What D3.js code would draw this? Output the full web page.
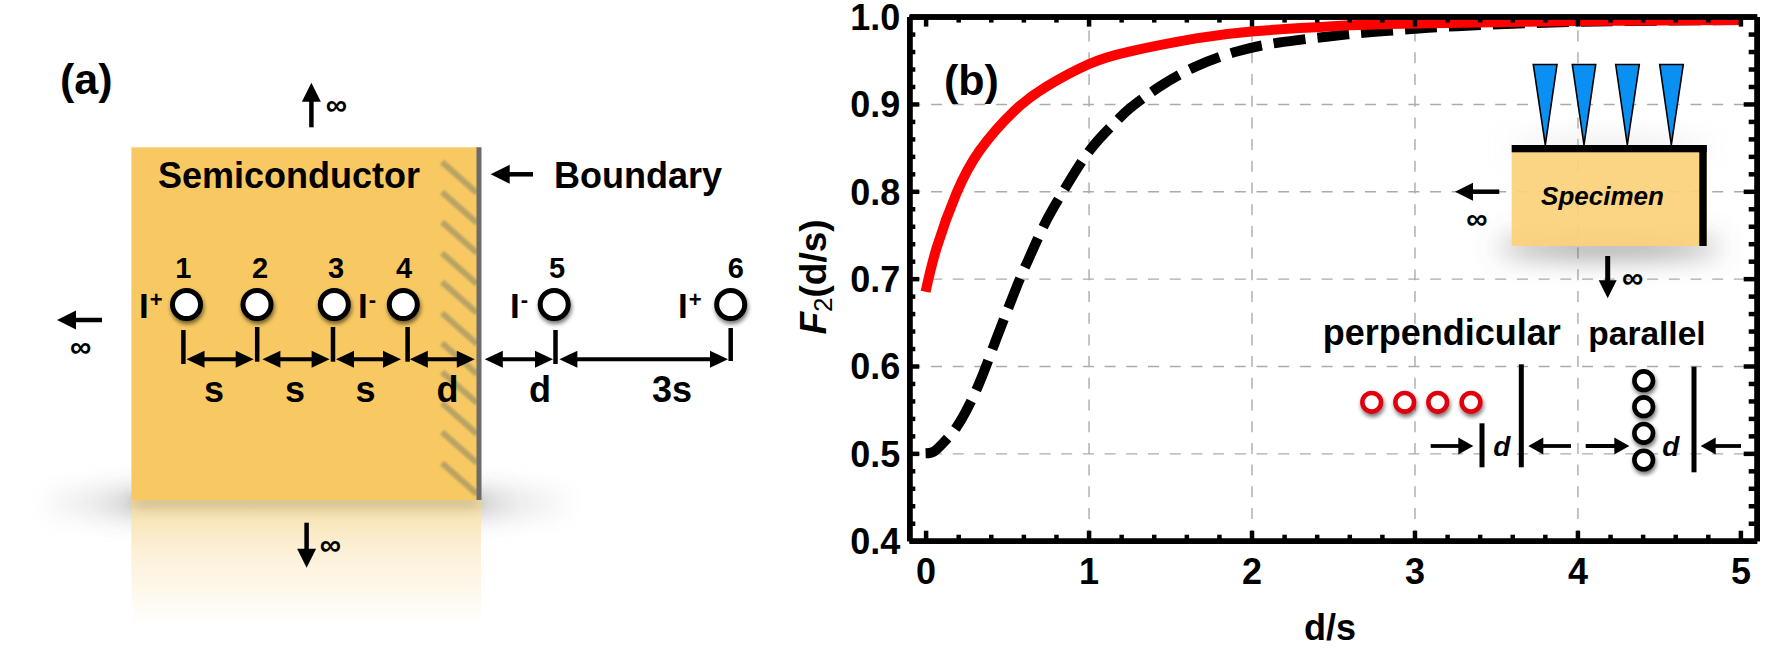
<!DOCTYPE html>
<html>
<head>
<meta charset="utf-8">
<script src="https://cdn.jsdelivr.net/npm/d3@7"></script>
<style>
	html,body{margin:0;padding:0;background:#fff;}
	svg{display:block;}
	text{font-family:"Liberation Sans",Arial,sans-serif;font-weight:bold;fill:#000;}
</style>
</head>
<body>
<svg id="fig" width="1791" height="649"></svg>
<script>
/* curve values */
var perpD=[0,0.0675,0.19,0.333,0.538,0.742,1,1.25,1.66,2,2.5,3,4,5];
var perpF=[0.685,0.735,0.798,0.847,0.891,0.92,0.9455,0.96,0.975,0.983,0.989,0.992,0.995,0.996];
var paraD=[0,0.05,0.108,0.19,0.272,0.344,0.436,0.568,0.63,0.732,0.845,1.008,1.17,1.253,1.437,1.66,1.91,2.16,2.46,2.72,3,3.26,4,5];
var paraF=[0.5,0.502,0.512,0.53,0.557,0.587,0.632,0.695,0.7214,0.763,0.8,0.847,0.88,0.895,0.92,0.943,0.96,0.97,0.977,0.982,0.986,0.989,0.994,0.996];
var xTicks=[0,1,2,3,4,5];
var yTicks=[0.4,0.5,0.6,0.7,0.8,0.9,1.0];
var xMinor=[0.2,0.4,0.6,0.8,1.2,1.4,1.6,1.8,2.2,2.4,2.6,2.8,3.2,3.4,3.6,3.8,4.2,4.4,4.6,4.8];
var yMinor=[0.42,0.44,0.46,0.48,0.52,0.54,0.56,0.58,0.62,0.64,0.66,0.68,0.72,0.74,0.76,0.78,0.82,0.84,0.86,0.88,0.92,0.94,0.96,0.98];
var probeNames=["1","2","3","4","5","6"];
var spacingNames=["s","s","s","d","d","3s"];

var svg=d3.select("#fig");
var defs=svg.append("defs");

function blurFilter(id,dev){
	defs.append("filter").attr("id",id)
		.attr("x","-50%").attr("y","-400%").attr("width","200%").attr("height","900%")
		.append("feGaussianBlur").attr("stdDeviation",dev);
}
blurFilter("blurBig",14);
blurFilter("blurMid",7);
blurFilter("blurHatch",0.9);
var dropF=defs.append("filter").attr("id","drop").attr("x","-40%").attr("y","-40%").attr("width","180%").attr("height","180%");
dropF.append("feDropShadow").attr("dx",1).attr("dy",3).attr("stdDeviation",2.2).attr("flood-color","#000").attr("flood-opacity",0.55);

var reflect=defs.append("linearGradient").attr("id","reflect").attr("x1",0).attr("y1",0).attr("x2",0).attr("y2",1);
reflect.append("stop").attr("offset",0).attr("stop-color","#f6dfa8");
reflect.append("stop").attr("offset",0.4).attr("stop-color","#fcf0d6");
reflect.append("stop").attr("offset",1).attr("stop-color","#ffffff");

/* helpers */
function arrowHead(g,x,y,dx,dy,len,wid){
	g.append("path").attr("fill","#000")
		.attr("d",d3.line()([[x,y],[x-dx*len-dy*wid/2,y-dy*len+dx*wid/2],[x-dx*len+dy*wid/2,y-dy*len-dx*wid/2]]));
}
function arrow(g,x1,y1,x2,y2,sw,len,wid){
	var L=Math.hypot(x2-x1,y2-y1),dx=(x2-x1)/L,dy=(y2-y1)/L;
	g.append("line").attr("x1",x1).attr("y1",y1).attr("x2",x2-dx*len*0.8).attr("y2",y2-dy*len*0.8)
		.attr("stroke","#000").attr("stroke-width",sw);
	arrowHead(g,x2,y2,dx,dy,len,wid);
}
function biArrow(g,x1,x2,y){
	g.append("line").attr("x1",x1+10).attr("y1",y).attr("x2",x2-10).attr("y2",y).attr("stroke","#000").attr("stroke-width",4);
	arrowHead(g,x1,y,-1,0,18,17);
	arrowHead(g,x2,y,1,0,18,17);
}
function label(g,x,y,str,size,anchor,style){
	return g.append("text").attr("x",x).attr("y",y).attr("font-size",size)
		.attr("text-anchor",anchor||"start").style("font-style",style||"normal").text(str);
}
function infinity(g,x,y,size){
	g.append("text").attr("x",x).attr("y",y).attr("font-size",size).attr("text-anchor","middle")
		.attr("dominant-baseline","central").text("\u221e");
}
function vbar(g,x,y1,y2,sw){
	g.append("line").attr("x1",x).attr("x2",x).attr("y1",y1).attr("y2",y2).attr("stroke","#000").attr("stroke-width",sw);
}
function ring(g,x,y,r,sw,col){
	g.append("circle").attr("cx",x).attr("cy",y).attr("r",r).attr("fill","#fff")
		.attr("stroke",col).attr("stroke-width",sw).attr("filter","url(#drop)");
}
function pmLabel(g,x,y,sign){
	var t=g.append("text").attr("x",x).attr("y",y).attr("font-size",35).text("I");
	t.append("tspan").attr("font-size",22).attr("dy",-11).attr("dx",1).text(sign);
}

/* panel a */
var a=svg.append("g").attr("id","panelA");
a.append("ellipse").attr("cx",306).attr("cy",503).attr("rx",262).attr("ry",12)
	.attr("fill","#d8d8d8").attr("filter","url(#blurBig)");
a.append("ellipse").attr("cx",306).attr("cy",503).attr("rx",205).attr("ry",5)
	.attr("fill","#777").attr("filter","url(#blurBig)");
a.append("rect").attr("x",131.4).attr("y",500).attr("width",349.6).attr("height",125).attr("fill","url(#reflect)");
a.append("rect").attr("x",131.4).attr("y",500).attr("width",349.6).attr("height",5).attr("fill","#6f6547").attr("opacity",0.7).attr("filter","url(#blurMid)");
a.append("rect").attr("x",131.4).attr("y",147.3).attr("width",349).attr("height",352.7).attr("fill","#f8c962");

[162,192,222,253,282,313,343,372,403,432,463].forEach(function(y0){
	a.append("line").attr("x1",442).attr("y1",y0).attr("x2",477).attr("y2",y0+31)
		.attr("stroke","#b9a364").attr("stroke-width",6).attr("filter","url(#blurHatch)");
});
a.append("rect").attr("x",476.5).attr("y",147.3).attr("width",5).attr("height",352.7).attr("fill","#6b6b6b");

label(a,60,93.5,"(a)",43);
label(a,158,188,"Semiconductor",36);
label(a,554,188,"Boundary",36);
arrow(a,533,174.3,490.7,174.3,4.5,19,19);

arrow(a,311.4,127.3,311.4,82.7,4.5,19,19);
infinity(a,336.5,104,30);
arrow(a,102,320,57,320,4.5,19,19);
infinity(a,80.7,346,30);
arrow(a,306.6,522.7,306.6,567.7,4.5,19,19);
infinity(a,330.4,544,30);

var ringX=[186.5,257,334.3,403.3,554.2,730.7];
var numX=[183.4,260,336,404,557,735.7];
var barX=[183.4,257.2,333,407.6,555.5,730.7];
var barTop=[330,327,327,327,330,328];
var barBot=[364,361.7,361.7,361.7,364,361];
probeNames.forEach(function(n,i){
	label(a,numX[i],277.5,n,29,"middle");
	ring(a,ringX[i],304.5,14,5,"#000");
	vbar(a,barX[i],barTop[i],barBot[i],4.5);
});
pmLabel(a,139,318,"+");
pmLabel(a,358,318,"-");
pmLabel(a,510,318,"-");
pmLabel(a,678,318,"+");

var spanL=[186.5,262.4,336,409.8,484.8,559.4];
var spanR=[253.7,329.6,401,474.8,553,728];
var spanX=[214,295,365.6,447.5,540,672];
spacingNames.forEach(function(n,i){
	biArrow(a,spanL[i],spanR[i],359.3);
	label(a,spanX[i],401.7,n,36,"middle");
});

/* panel b */
var b=svg.append("g").attr("id","panelB");
var x=d3.scaleLinear().domain([-0.1,5.1]).range([909.3,1756.7]);
var y=d3.scaleLinear().domain([0.4,1.0]).range([540.7,16.6]);
var left=909.3,right=1756.7,top0=16.6,bottom=540.7;

/* grid */
var grid=b.append("g").attr("id","grid");
grid.append("g").attr("transform","translate(0,"+bottom+")")
	.call(d3.axisBottom(x).tickValues(xTicks.slice(1,5)).tickSize(-(bottom-top0)).tickFormat(""))
	.call(function(g){g.select(".domain").remove();});
grid.append("g").attr("transform","translate("+left+",0)")
	.call(d3.axisLeft(y).tickValues(yTicks.slice(1,6)).tickSize(-(right-left)).tickFormat(""))
	.call(function(g){g.select(".domain").remove();});
grid.selectAll("line").attr("stroke","#ababab").attr("stroke-width",1.4).attr("stroke-dasharray","11 10.7");

/* curves */
var line=d3.line().x(function(d){return x(d[0]);}).y(function(d){return y(d[1]);}).curve(d3.curveNatural);
b.append("path").datum(d3.zip(paraD,paraF)).attr("d",line).attr("fill","none")
	.attr("stroke","#000").attr("stroke-width",10).attr("stroke-dasharray","32 12").attr("stroke-dashoffset",4);
b.append("path").datum(d3.zip(perpD,perpF)).attr("d",line).attr("fill","none")
	.attr("stroke","#f00").attr("stroke-width",10);

/* axes and frame */
function styleAxis(g){
	g.selectAll(".tick line").attr("stroke","#000").attr("stroke-width",4.5);
	g.select(".domain").attr("stroke","#000").attr("stroke-width",5.5);
}
function minorAxis(axisFn,scale,vals,size,tr){
	b.append("g").attr("transform",tr)
		.call(axisFn(scale).tickValues(vals).tickSizeInner(size).tickSizeOuter(0).tickFormat(""))
		.call(styleAxis);
}
var trB="translate(0,"+bottom+")",trT="translate(0,"+top0+")",trL="translate("+left+",0)",trR="translate("+right+",0)";
minorAxis(d3.axisBottom,x,xMinor,-6,trB);
minorAxis(d3.axisBottom,x,xTicks,-10,trB);
minorAxis(d3.axisTop,x,xMinor,-6,trT);
minorAxis(d3.axisTop,x,xTicks,-10,trT);
minorAxis(d3.axisLeft,y,yMinor,-6,trL);
minorAxis(d3.axisLeft,y,yTicks,-10,trL);
minorAxis(d3.axisRight,y,yMinor,-8,trR);
minorAxis(d3.axisRight,y,yTicks,-13,trR);

var xLab=b.append("g").attr("transform",trB)
	.call(d3.axisBottom(x).tickValues(xTicks).tickSize(0).tickPadding(0).tickFormat(d3.format("d")));
xLab.select(".domain").remove();
xLab.selectAll("text").attr("y",43.5).attr("dy",0).attr("font-size",36).attr("font-family",null);
var yLab=b.append("g").attr("transform",trL)
	.call(d3.axisLeft(y).tickValues(yTicks).tickSize(0).tickPadding(0).tickFormat(d3.format(".1f")));
yLab.select(".domain").remove();
yLab.selectAll("text").attr("x",-9).attr("dy","0.36em").attr("font-size",36).attr("font-family",null);

label(b,1330,640,"d/s",36,"middle");
var yt=b.append("text").attr("transform","translate(826,277) rotate(-90)").attr("text-anchor","middle").attr("font-size",37);
yt.append("tspan").style("font-style","italic").text("F");
yt.append("tspan").attr("font-size",26).attr("dy",6).style("font-weight","normal").text("2");
yt.append("tspan").attr("dy",-6).text("(d/s)");

label(b,944,94.5,"(b)",43);

/* inset: specimen and probes */
var ins=b.append("g").attr("id","inset");
ins.append("ellipse").attr("cx",1609).attr("cy",247).attr("rx",112).attr("ry",7).attr("fill","#666").attr("filter","url(#blurBig)");
ins.append("ellipse").attr("cx",1609).attr("cy",148).attr("rx",100).attr("ry",3).attr("fill","#bbb").attr("filter","url(#blurBig)");
ins.append("rect").attr("x",1511.7).attr("y",145).attr("width",195).attr("height",101).attr("fill","#fbd27a").attr("fill-opacity",0.93);
ins.append("rect").attr("x",1511.7).attr("y",145).attr("width",195).attr("height",7.3).attr("fill","#000");
ins.append("rect").attr("x",1699.3).attr("y",145).attr("width",7.4).attr("height",101).attr("fill","#000");
[[1533.3,1557,1545.3],[1572.3,1595.7,1584],[1615.7,1639.3,1627.3],[1659.7,1683.3,1671.3]].forEach(function(t){
	ins.append("path").attr("d",d3.line()([[t[0],64.5],[t[1],64.5],[t[2],145]])+"Z")
		.attr("fill","#0a90f2").attr("stroke","#000").attr("stroke-width",1.6);
});
label(ins,1602.5,205,"Specimen",26,"middle","italic");
arrow(ins,1499.3,191.7,1455,191.7,4.5,18,18);
infinity(ins,1477,218,30);
arrow(ins,1607.7,256,1607.7,298.3,5,18,18);
infinity(ins,1632.7,277,30);

label(ins,1322.7,345,"perpendicular",36);
label(ins,1588.3,345,"parallel",33.5);
[1371.7,1404.7,1437.7,1471].forEach(function(cx){ ring(ins,cx,402.3,9.3,4.6,"#e0000f"); });
[380.7,406.7,433.3,460].forEach(function(cy){ ring(ins,1643.7,cy,9.3,4.6,"#000"); });
vbar(ins,1482,423.3,467.3,5);
vbar(ins,1521.3,364.3,467.3,5);
vbar(ins,1694,366.7,472.3,5);
label(ins,1501.7,456,"d",28,"middle","italic");
label(ins,1670.7,456,"d",28,"middle","italic");
arrow(ins,1430.7,446,1473.3,446,3.8,15,17);
arrow(ins,1571,446,1528.3,446,3.8,15,17);
arrow(ins,1585.7,446,1629.3,446,3.8,15,17);
arrow(ins,1741,446,1700.7,446,3.8,15,17);
</script>
</body>
</html>
